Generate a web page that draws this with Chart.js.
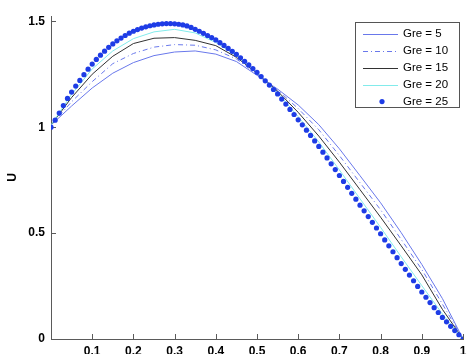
<!DOCTYPE html>
<html>
<head>
<meta charset="utf-8">
<script src="https://cdn.jsdelivr.net/npm/chart.js@4.4.0/dist/chart.umd.min.js"></script>
<style>
  html, body { margin: 0; padding: 0; background: #fff; }
  #wrap { width: 474px; height: 354px; }
</style>
</head>
<body>
<div id="wrap"><canvas id="chart" width="474" height="354"></canvas></div>
<script>
// x positions of the line series (every 0.05) and of the dotted series (every 0.01)
const xLine = [0, 0.05, 0.1, 0.15, 0.2, 0.25, 0.3, 0.35, 0.4, 0.45, 0.5,
               0.55, 0.6, 0.65, 0.7, 0.75, 0.8, 0.85, 0.9, 0.95, 1];
const xDots = [0, 0.01, 0.02, 0.03, 0.04, 0.05, 0.06, 0.07, 0.08, 0.09,
               0.1, 0.11, 0.12, 0.13, 0.14, 0.15, 0.16, 0.17, 0.18, 0.19,
               0.2, 0.21, 0.22, 0.23, 0.24, 0.25, 0.26, 0.27, 0.28, 0.29,
               0.3, 0.31, 0.32, 0.33, 0.34, 0.35, 0.36, 0.37, 0.38, 0.39,
               0.4, 0.41, 0.42, 0.43, 0.44, 0.45, 0.46, 0.47, 0.48, 0.49,
               0.5, 0.51, 0.52, 0.53, 0.54, 0.55, 0.56, 0.57, 0.58, 0.59,
               0.6, 0.61, 0.62, 0.63, 0.64, 0.65, 0.66, 0.67, 0.68, 0.69,
               0.7, 0.71, 0.72, 0.73, 0.74, 0.75, 0.76, 0.77, 0.78, 0.79,
               0.8, 0.81, 0.82, 0.83, 0.84, 0.85, 0.86, 0.87, 0.88, 0.89,
               0.9, 0.91, 0.92, 0.93, 0.94, 0.95, 0.96, 0.97, 0.98, 0.99, 1];

const seriesLabels = ['Gre = 5', 'Gre = 10', 'Gre = 15', 'Gre = 20', 'Gre = 25'];

const gre5  = [1.010, 1.100, 1.185, 1.255, 1.305, 1.338, 1.355, 1.360, 1.345, 1.310, 1.245,
               1.180, 1.105, 1.012, 0.898, 0.771, 0.643, 0.502, 0.352, 0.191, 0.000];
const gre10 = [1.010, 1.120, 1.215, 1.300, 1.348, 1.378, 1.390, 1.387, 1.365, 1.322, 1.250,
               1.175, 1.088, 0.988, 0.866, 0.738, 0.610, 0.470, 0.328, 0.165, 0.000];
const gre15 = [1.010, 1.140, 1.250, 1.335, 1.395, 1.420, 1.423, 1.410, 1.385, 1.330, 1.255,
               1.170, 1.070, 0.958, 0.835, 0.705, 0.575, 0.440, 0.303, 0.140, 0.000];
const gre20 = [1.010, 1.155, 1.275, 1.360, 1.418, 1.450, 1.462, 1.445, 1.400, 1.338, 1.257,
               1.162, 1.050, 0.930, 0.798, 0.662, 0.527, 0.388, 0.252, 0.118, 0.000];
const gre25 = [1.000, 1.033, 1.067, 1.102, 1.136, 1.166, 1.194, 1.221, 1.248, 1.274,
               1.298, 1.320, 1.340, 1.359, 1.377, 1.393, 1.408, 1.421, 1.433, 1.444,
               1.453, 1.461, 1.468, 1.474, 1.479, 1.483, 1.486, 1.488, 1.489, 1.489,
               1.488, 1.486, 1.483, 1.478, 1.471, 1.462, 1.453, 1.443, 1.433, 1.423,
               1.412, 1.399, 1.386, 1.372, 1.358, 1.344, 1.328, 1.311, 1.294, 1.277,
               1.259, 1.239, 1.219, 1.199, 1.178, 1.157, 1.133, 1.109, 1.084, 1.060,
               1.035, 1.011, 0.986, 0.961, 0.935, 0.909, 0.882, 0.855, 0.827, 0.800,
               0.772, 0.744, 0.716, 0.688, 0.660, 0.632, 0.605, 0.578, 0.551, 0.524,
               0.497, 0.468, 0.440, 0.412, 0.384, 0.356, 0.329, 0.302, 0.275, 0.248,
               0.222, 0.197, 0.172, 0.148, 0.125, 0.102, 0.081, 0.060, 0.040, 0.020,
               0.000];

// tick values and their labels
const xTickValues = [0, 0.1, 0.2, 0.3, 0.4, 0.5, 0.6, 0.7, 0.8, 0.9, 1];
const xTickLabels = ['', '0.1', '0.2', '0.3', '0.4', '0.5', '0.6', '0.7', '0.8', '0.9', '1'];
const yTickValues = [0, 0.5, 1, 1.5];
const yTickLabels = ['0', '0.5', '1', '1.5'];

const toPoints = (xs, ys) => xs.map((x, i) => ({ x: x, y: ys[i] }));

const axisColor = '#5a5a5a';
const tickFont = { family: 'Liberation Sans, Arial, sans-serif', size: 12, weight: 'bold' };

// MATLAB style ticks pointing into the plot
const innerTicks = {
    id: 'innerTicks',
    beforeDatasetsDraw(chart) {
        const ctx = chart.ctx;
        const area = chart.chartArea;
        const xs = chart.scales.x, ys = chart.scales.y;
        ctx.save();
        ctx.strokeStyle = axisColor;
        ctx.lineWidth = 1;
        ctx.beginPath();
        xTickValues.forEach(v => {
            if (v === 0) return;
            const px = Math.round(xs.getPixelForValue(v)) + 0.5;
            ctx.moveTo(px, area.bottom);
            ctx.lineTo(px, area.bottom - 5);
        });
        yTickValues.forEach(v => {
            const py = Math.round(ys.getPixelForValue(v)) + 0.5;
            ctx.moveTo(area.left, py);
            ctx.lineTo(area.left + 5, py);
        });
        ctx.stroke();
        ctx.restore();
    }
};

// boxed legend in the top right corner
const boxLegend = {
    id: 'boxLegend',
    afterDatasetsDraw(chart) {
        const ctx = chart.ctx;
        const bx = 355.5, by = 22.5, bw = 104, bh = 85;
        ctx.save();
        ctx.fillStyle = '#fff';
        ctx.fillRect(bx, by, bw, bh);
        ctx.strokeStyle = '#555';
        ctx.lineWidth = 1;
        ctx.strokeRect(bx, by, bw, bh);
        chart.data.datasets.forEach((ds, i) => {
            const cy = 34 + i * 16.9;
            if (ds.showLine === false) {
                ctx.fillStyle = ds.pointBackgroundColor;
                ctx.beginPath();
                ctx.arc(382, cy, ds.pointRadius, 0, Math.PI * 2);
                ctx.fill();
            } else {
                ctx.strokeStyle = ds.borderColor;
                ctx.lineWidth = ds.borderWidth;
                ctx.setLineDash(ds.borderDash || []);
                ctx.beginPath();
                ctx.moveTo(363, Math.round(cy) + 0.5);
                ctx.lineTo(398, Math.round(cy) + 0.5);
                ctx.stroke();
                ctx.setLineDash([]);
            }
            ctx.fillStyle = '#000';
            ctx.font = '11.5px "Liberation Sans", Arial, sans-serif';
            ctx.textBaseline = 'middle';
            ctx.textAlign = 'left';
            ctx.fillText(ds.label, 403, cy);
        });
        ctx.restore();
    }
};

new Chart(document.getElementById('chart'), {
    type: 'scatter',
    data: {
        datasets: [
            { label: seriesLabels[0], data: toPoints(xLine, gre5), showLine: true,
              borderColor: 'rgb(105,120,235)', borderWidth: 1, pointRadius: 0, order: 5 },
            { label: seriesLabels[1], data: toPoints(xLine, gre10), showLine: true,
              borderColor: 'rgb(105,120,235)', borderWidth: 1, borderDash: [5, 3, 1, 3], pointRadius: 0, order: 4 },
            { label: seriesLabels[2], data: toPoints(xLine, gre15), showLine: true,
              borderColor: 'rgb(50,50,50)', borderWidth: 1, pointRadius: 0, order: 3 },
            { label: seriesLabels[3], data: toPoints(xLine, gre20), showLine: true,
              borderColor: 'rgb(130,235,235)', borderWidth: 1, pointRadius: 0, order: 2 },
            { label: seriesLabels[4], data: toPoints(xDots, gre25), showLine: false,
              pointRadius: 2.6, pointBackgroundColor: 'rgb(30,60,230)', pointBorderWidth: 0,
              pointHoverRadius: 2.6, order: 1 }
        ]
    },
    options: {
        responsive: false,
        devicePixelRatio: 1,
        animation: false,
        layout: { padding: { top: 16, right: 11, left: 0, bottom: 0 } },
        plugins: { legend: { display: false }, tooltip: { enabled: false } },
        scales: {
            x: {
                type: 'linear', min: 0, max: 1,
                afterBuildTicks: s => { s.ticks = xTickValues.map(v => ({ value: v })); },
                afterFit: s => { s.height = 15; },
                grid: { display: false, drawTicks: false },
                border: { display: true, color: axisColor, width: 1 },
                ticks: {
                    padding: 5, color: '#000', font: tickFont, maxRotation: 0, autoSkip: false,
                    callback: (v, i) => xTickLabels[i]
                }
            },
            y: {
                type: 'linear', min: 0, max: 1.525,
                afterBuildTicks: s => { s.ticks = yTickValues.map(v => ({ value: v })); },
                afterFit: s => { s.width = 51; },
                grid: { display: false, drawTicks: false },
                border: { display: true, color: axisColor, width: 1 },
                title: { display: true, text: 'U', color: '#000', padding: { top: 5, bottom: 0 },
                         font: { family: 'Liberation Sans, Arial, sans-serif', size: 12, weight: 'bold' } },
                ticks: {
                    padding: 6, color: '#000', font: tickFont, autoSkip: false,
                    callback: (v, i) => yTickLabels[i]
                }
            }
        }
    },
    plugins: [innerTicks, boxLegend]
});
</script>
</body>
</html>
